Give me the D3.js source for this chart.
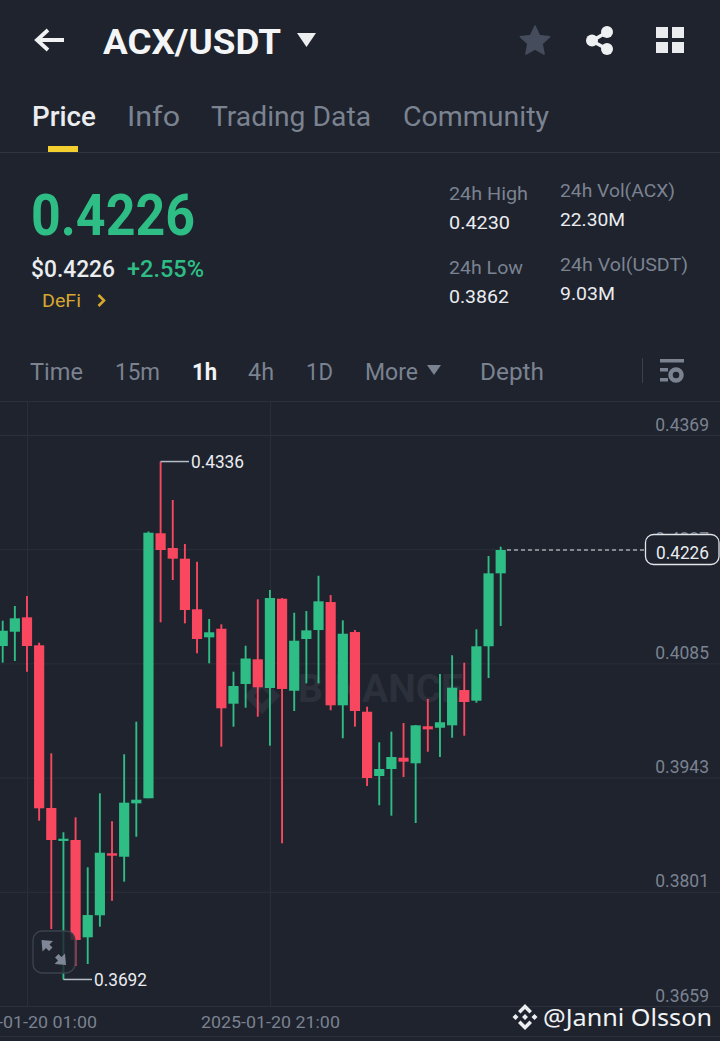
<!DOCTYPE html>
<html><head><meta charset="utf-8">
<script src="https://cdn.jsdelivr.net/npm/d3@7"></script>
<style>html,body{margin:0;padding:0;background:#1e232e;overflow:hidden}svg{display:block}text{font-family:Roboto,"Noto Sans",sans-serif}</style>
</head><body><div id="chart"></div>
<script>
// 1h candles, first one at 2025-01-19 23:00
const opens=[.41066,.41244,.41423,.41075,.39052,.38642,.38654,.37444,.37718,.38489,.38446,.39110,.39173,.42468,.42285,.42152,.41523,.41174,.41281,.40349,.40594,.40901,.40544,.41654,.40510,.41153,.41265,.41613,.40329,.41240,.40249,.39450,.39537,.39677,.39608,.40068,.40050,.40080,.40519,.40386,.41063,.41970];
const highs=[.41381,.41564,.41688,.41107,.39732,.38750,.38936,.38315,.39235,.38887,.39720,.40125,.42490,.43360,.42882,.42335,.42114,.41402,.41336,.40747,.41070,.41647,.41763,.41663,.41480,.41501,.41940,.41700,.41386,.41265,.40312,.39869,.40001,.40109,.40084,.40407,.40718,.40951,.40859,.41274,.42185,.42301];
const lows=[.40859,.40880,.40747,.38894,.37547,.36920,.37087,.37112,.37576,.37899,.38136,.38695,.39173,.41361,.41887,.41348,.40975,.40851,.39814,.40063,.40299,.40187,.39827,.38613,.40258,.40602,.40602,.40267,.39919,.40063,.39325,.39086,.38956,.39437,.38865,.39752,.39686,.39926,.39951,.40361,.40668,.41315];
const closes=[.41256,.41411,.41066,.39048,.38654,.38670,.37411,.37721,.38496,.38459,.39118,.39155,.42475,.42260,.42152,.41514,.41153,.41237,.40292,.40569,.40911,.40553,.41663,.40532,.41132,.41261,.41622,.40329,.41219,.40258,.39425,.39537,.39686,.39628,.40080,.40030,.40118,.40548,.40370,.41063,.41970,.42260];
const priceTicks=[.4369,.4227,.4085,.3943,.3801,.3659];
const timeTickIndex=[2,22];
const timeTickLabels=["2025-01-20 01:00","2025-01-20 21:00"];
const lastPrice=.4226, hiLabel=.4336, loLabel=.3692, hiIndex=13, loIndex=5;

const BG="#1e232e",GREEN="#2ebd85",RED="#f9475f",GRID="#2b303a",MUTED="#7b8290",WHITE="#eaecef";
const svg=d3.select("#chart").append("svg").attr("width",720).attr("height",1041).attr("viewBox","0 0 720 1041");
svg.append("rect").attr("width",720).attr("height",1041).attr("fill",BG);

function T(x,y,s,size,color,weight,w){
  const t=svg.append("text").attr("x",x).attr("y",y).text(s).attr("font-size",size).attr("fill",color).attr("font-weight",weight||400);
  if(w) t.attr("textLength",w).attr("lengthAdjust","spacingAndGlyphs");
  return t;
}
// header
svg.append("path").attr("d","M64 40H38M48 30L37 40L48 50").attr("fill","none").attr("stroke","#f0f1f3").attr("stroke-width",3.8);
T(103,54,"ACX/USDT",35,"#f4f5f6",700,178);
svg.append("path").attr("d","M297 33H316L306.5 47Z").attr("fill","#eceef0");
const starPts=d3.range(10).map(k=>{const r=k%2?7.5:15.5,a=k*Math.PI/5;return [r*Math.sin(a),-r*Math.cos(a)];});
svg.append("path").attr("d",d3.line().curve(d3.curveLinearClosed)(starPts)).attr("transform","translate(535,41.500)").attr("fill","#454c5b").attr("stroke","#454c5b").attr("stroke-width",1.5).attr("stroke-linejoin","round");
const sh=svg.append("g").attr("fill","#eef0f2");
sh.append("path").attr("d","M607 32L592 41L607 49").attr("fill","none").attr("stroke","#eef0f2").attr("stroke-width",3.5);
[[607,32],[592,40.500],[607,49]].forEach(p=>sh.append("circle").attr("cx",p[0]).attr("cy",p[1]).attr("r",6));
[[656,27],[672,27],[656,42],[672,42]].forEach(p=>svg.append("rect").attr("x",p[0]).attr("y",p[1]).attr("width",12).attr("height",11).attr("fill","#e9ebef"));
// tabs
T(32,126,"Price",27,"#eaecef",500,64);
T(127,126,"Info",27,MUTED,400,53);
T(211,126,"Trading Data",27,MUTED,400,160);
T(403,126,"Community",27,MUTED,400,146);
svg.append("rect").attr("x",48).attr("y",146).attr("width",30).attr("height",6).attr("fill","#f3cf2f");
svg.append("line").attr("x1",0).attr("x2",720).attr("y1",152.5).attr("y2",152.5).attr("stroke","#2f343e");
// price block
T(31,235,"0.4226",57,GREEN,700,164);
T(31,277,"$0.4226",23,"#eaecef",500,84);
T(127,277,"+2.55%",23,GREEN,500,77);
T(42,307,"DeFi",18,"#d9a62e",400,39);
svg.append("path").attr("d","M98.500 295L104 300.500L98.500 306").attr("fill","none").attr("stroke","#d9a62e").attr("stroke-width",2.6);
T(449,200,"24h High",19,MUTED,400,79);
T(449,229,"0.4230",19,WHITE,400,61);
T(560,197,"24h Vol(ACX)",19,MUTED,400,115);
T(560,226,"22.30M",19,WHITE,400,65);
T(449,274,"24h Low",19,MUTED,400,74);
T(449,303,"0.3862",19,WHITE,400,60);
T(560,271,"24h Vol(USDT)",19,MUTED,400,128);
T(560,300,"9.03M",19,WHITE,400,55);
// timeframe
[["Time",30,53],["15m",115,45],["4h",248,26],["1D",306,27],["More",365,53],["Depth",480,64]].forEach(d=>T(d[1],380,d[0],24,MUTED,400,d[2]));
T(192,380,"1h",24,"#f2f3f5",700,25);
svg.append("path").attr("d","M427 365H441L434 375Z").attr("fill",MUTED);
svg.append("line").attr("x1",642.500).attr("x2",642.500).attr("y1",358).attr("y2",383).attr("stroke","#3a404c");
const ic=svg.append("g").attr("fill",MUTED);
ic.append("rect").attr("x",660).attr("y",359).attr("width",24).attr("height",3.5);
ic.append("rect").attr("x",660).attr("y",368).attr("width",8).attr("height",3.5);
ic.append("rect").attr("x",660).attr("y",378).attr("width",8).attr("height",3.5);
ic.append("circle").attr("cx",676).attr("cy",375).attr("r",5.500).attr("fill","none").attr("stroke",MUTED).attr("stroke-width",4.5);
svg.append("line").attr("x1",0).attr("x2",720).attr("y1",401.500).attr("y2",401.500).attr("stroke","#2b303a");

// chart
const x=d3.scaleLinear().domain([0,41]).range([2.7,500.7]);
const y=d3.scaleLinear().domain([.3659,.4369]).range([1006,435]);
const idx=d3.range(opens.length);

// axes (grid comes from their ticks)
const gy=svg.append("g").attr("class","y").call(d3.axisRight(y).tickValues(priceTicks).tickSize(720).tickFormat(d3.format(".4f")));
gy.select(".domain").remove();
gy.selectAll("line").attr("stroke",GRID);
gy.selectAll("text").attr("x",709).attr("dy",0).attr("y",-5).attr("text-anchor","end").attr("font-size",17.5).attr("fill",MUTED);
const gx=svg.append("g").attr("class","x").attr("transform","translate(0,1006)")
  .call(d3.axisBottom(x).tickValues(timeTickIndex).tickSize(-604.500).tickPadding(8).tickFormat((d,i)=>timeTickLabels[i]));
gx.select(".domain").remove();
gx.selectAll("line").attr("stroke",GRID);
gx.selectAll("text").attr("font-size",17).attr("fill",MUTED).attr("dy",0).attr("y",22).attr("textLength",139).attr("lengthAdjust","spacingAndGlyphs");
svg.append("line").attr("x1",0).attr("x2",720).attr("y1",1036.5).attr("y2",1036.5).attr("stroke",GRID);

// watermark
const wm=svg.append("g").attr("fill","#2b303b");
wm.append("text").attr("x",298).attr("y",702).attr("font-size",38).attr("font-weight",700).attr("textLength",165).attr("lengthAdjust","spacingAndGlyphs").text("BINANCE");
wm.append("path").attr("d","M262 678L280 696L262 714L244 696ZM262 688L254 696L262 704L270 696Z").attr("fill-rule","evenodd");

const color=i=>closes[i]>=opens[i]?GREEN:RED;
const c=svg.append("g").attr("class","candles").selectAll("g").data(idx).join("g");
c.append("line").attr("x1",i=>x(i)).attr("x2",i=>x(i)).attr("y1",i=>y(highs[i])).attr("y2",i=>y(lows[i])).attr("stroke",color).attr("stroke-width",1.9);
c.append("rect").attr("x",i=>x(i)-5.1).attr("width",10.2)
  .attr("y",i=>y(Math.max(opens[i],closes[i])))
  .attr("height",i=>Math.max(2,Math.abs(y(opens[i])-y(closes[i]))))
  .attr("fill",color);

// hi / lo labels
svg.append("line").attr("x1",x(hiIndex)).attr("x2",189).attr("y1",y(hiLabel)).attr("y2",y(hiLabel)).attr("stroke","#b7bdc6").attr("stroke-width",1.5);
T(191,y(hiLabel)+6.5,"0.4336",17.5,WHITE,400,53);
svg.append("line").attr("x1",x(loIndex)).attr("x2",92).attr("y1",y(loLabel)).attr("y2",y(loLabel)).attr("stroke","#b7bdc6").attr("stroke-width",1.5);
T(94,y(loLabel)+7,"0.3692",17.5,WHITE,400,53);

// last price
svg.append("line").attr("x1",507).attr("x2",645).attr("y1",y(lastPrice)).attr("y2",y(lastPrice)).attr("stroke","#e6e8ea").attr("stroke-width",1.2).attr("stroke-dasharray","4 3");
svg.append("rect").attr("x",645.500).attr("y",534.500).attr("width",73.500).attr("height",30).attr("rx",8).attr("fill",BG).attr("stroke","#e3e5e8").attr("stroke-width",1.3);
T(656,y(lastPrice)+9,"0.4226",17.500,WHITE,400,53);

// expand button
svg.append("rect").attr("x",33).attr("y",931).attr("width",42).attr("height",42).attr("rx",9).attr("fill",BG).attr("fill-opacity",.8).attr("stroke","#3b414d").attr("stroke-width",1.4);
const ar=svg.append("g").attr("fill","#7f8695");
ar.append("path").attr("d","M41.500 940L53 941L49.500 944.500L52.500 947.500L49 951L46 948L42.500 951.500Z");
ar.append("path").attr("d","M66 965L54.500 964L58 960.500L55 957.500L58.500 954L61.500 957L65 953.500Z");

// credit
const lg=svg.append("g").attr("fill","#eceef0").attr("transform","translate(525,1017)");
lg.append("path").attr("d","M0 -13L7 -6L4.500 -3.500L0 -8L-4.500 -3.500L-7 -6ZM0 13L7 6L4.500 3.500L0 8L-4.500 3.500L-7 6ZM-9.500 -3L-6.500 0L-9.500 3L-12.500 0ZM9.500 -3L12.500 0L9.500 3L6.500 0ZM0 -3L3 0L0 3L-3 0Z");
T(543,1026,"@Janni Olsson",24,"#f1f2f4",400,169).style("font-family",'"Noto Sans",sans-serif');
</script></body></html>
